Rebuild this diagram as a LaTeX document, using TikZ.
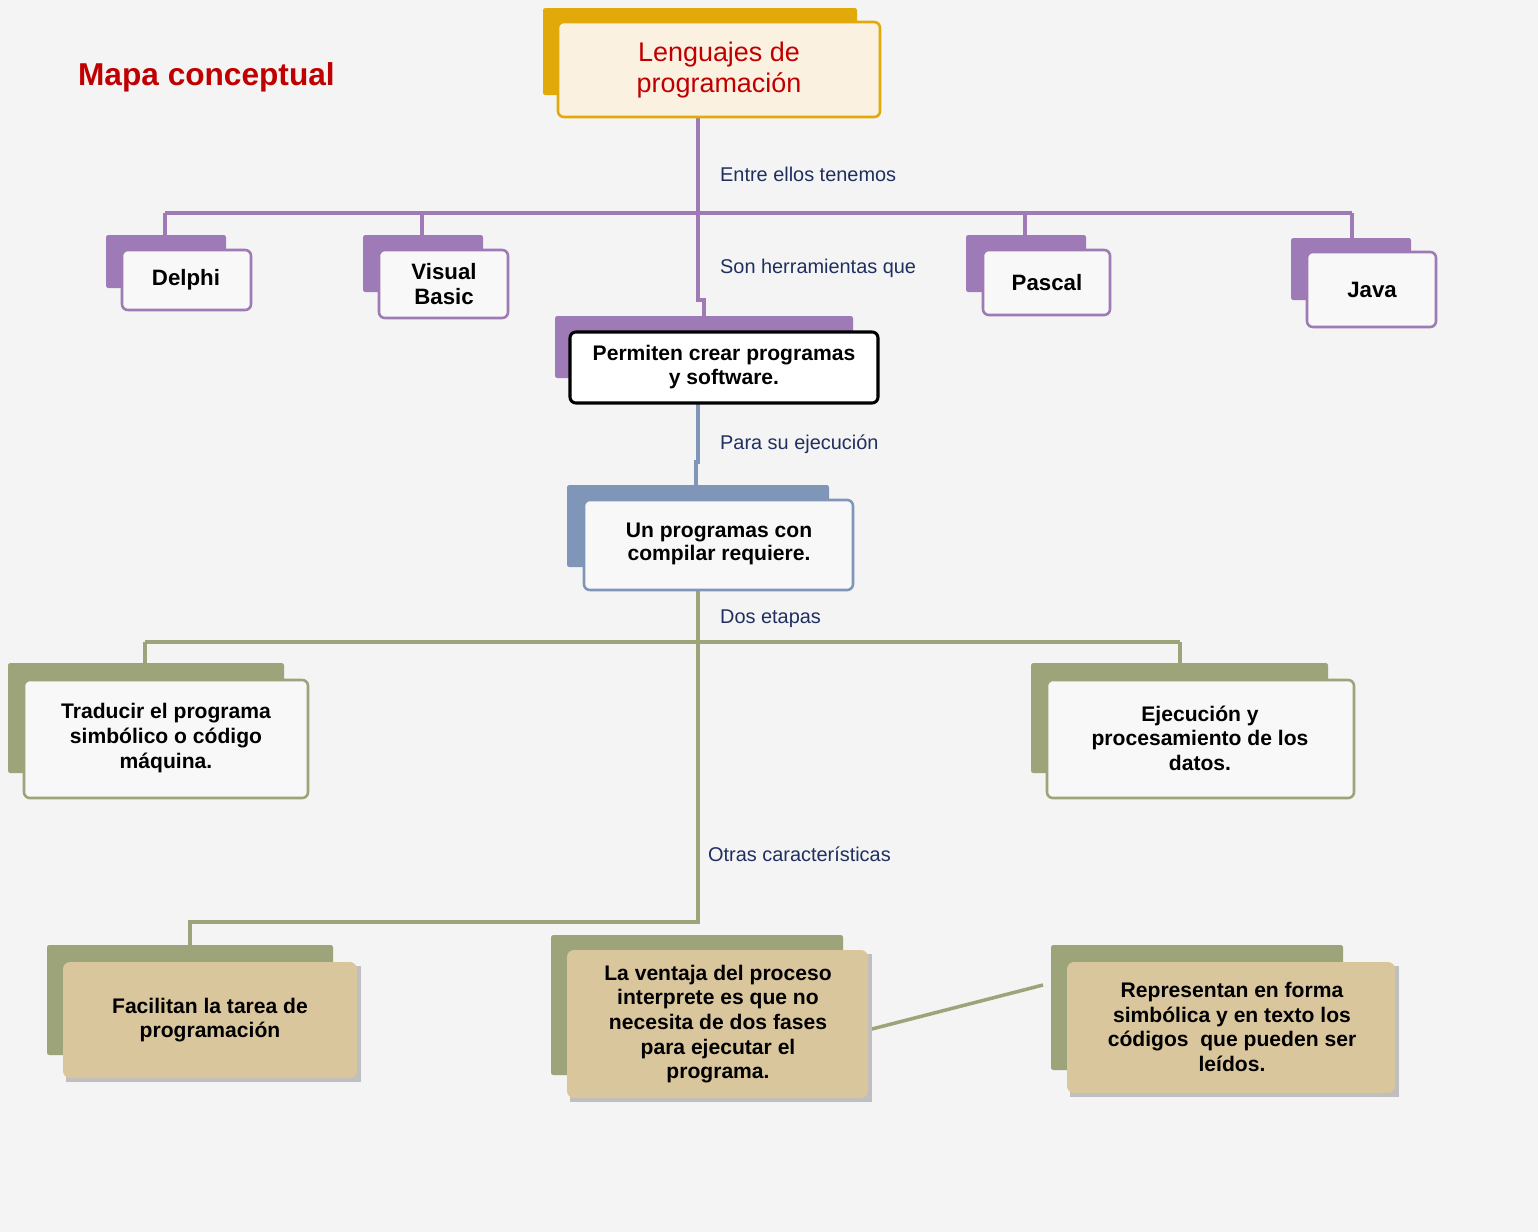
\documentclass[tikz,border=0pt]{standalone}
\usepackage{fontspec}
\setmainfont{Liberation Sans}
\usetikzlibrary{fit}
\definecolor{bg}{HTML}{F4F4F4}
\definecolor{gold}{HTML}{E1A90A}
\definecolor{cream}{HTML}{FBF1E0}
\definecolor{purp}{HTML}{9E7AB6}
\definecolor{bluegray}{HTML}{7F96B8}
\definecolor{olive}{HTML}{9DA47A}
\definecolor{tan}{HTML}{D9C69C}
\definecolor{navy}{HTML}{1F2F5F}
\definecolor{redt}{HTML}{C00000}
\tikzset{
 x=0.3mm,y=-0.3mm,
 backbox/.style={fill=#1, rounded corners=2pt},
 front/.style={draw=#1, line width=2.2pt, fill=bg!60!white, rounded corners=5pt, inner sep=0pt, align=center, font=\fontsize{19}{21}\selectfont\bfseries},
 tanbox/.style={draw=none, fill=tan, rounded corners=6pt, inner sep=0pt, align=center, font=\fontsize{19}{21}\selectfont\bfseries},
 lbl/.style={anchor=west, text=navy, font=\fontsize{17}{19}\selectfont},
 pl/.style={draw=purp, line width=3pt},
 bl/.style={draw=bluegray, line width=3pt},
 ol/.style={draw=olive, line width=3pt},
}
\begin{document}
\begin{tikzpicture}
\fill[bg] (0,0) rectangle (1538,1232);
\useasboundingbox (0,0) rectangle (1538,1232);
\node[text=redt, anchor=west, font=\fontsize{27}{29}\selectfont\bfseries] (title) at (74,77) {Mapa conceptual};
% connectors first
\coordinate (t1) at (698,117);
\coordinate (hl) at (165,213);
\coordinate (hr) at (1352,213);
\draw[pl] (t1) -- (698,300) -- (704,300) -- (704,318);
\draw[pl] (hl) -- (hr);
\draw[pl] (165,213) -- (165,236);
\draw[pl] (422,213) -- (422,236);
\draw[pl] (1025,213) -- (1025,236);
\draw[pl] (1352,213) -- (1352,238);
\draw[bl] (698,403) -- (698,462) -- (696,462) -- (696,487);
\draw[ol] (698,590) -- (698,922) -- (190,922) -- (190,945);
\draw[ol] (145,642) -- (1180,642);
\draw[ol] (145,642) -- (145,664);
\draw[ol] (1180,642) -- (1180,664);
% Lenguajes
\fill[backbox=gold] (543,8) rectangle (857,95);
\node[front=gold, fill=cream, fit={(558,22)(880,117)}] (leng) {};
\node[text=redt, font=\fontsize{23}{26}\selectfont, align=center] at (719,70) {Lenguajes de\\programación};
% purple boxes
\fill[backbox=purp] (106,235) rectangle (226,288);
\node[front=purp, fit={(122,250)(251,310)}] (delphi) {};
\node[font=\fontsize{19}{21}\selectfont\bfseries] at (186,280) {Delphi};
\fill[backbox=purp] (363,235) rectangle (483,292);
\node[front=purp, fit={(379,250)(508,318)}] (vb) {};
\node[font=\fontsize{19}{21}\selectfont\bfseries, align=center] at (444,284) {Visual\\Basic};
\fill[backbox=purp] (966,235) rectangle (1086,292);
\node[front=purp, fit={(983,250)(1110,315)}] (pascal) {};
\node[font=\fontsize{19}{21}\selectfont\bfseries] at (1047,283) {Pascal};
\fill[backbox=purp] (1291,238) rectangle (1411,300);
\node[front=purp, fit={(1307,252)(1436,327)}] (java) {};
\node[font=\fontsize{19}{21}\selectfont\bfseries] at (1372,290) {Java};
% Permiten
\fill[backbox=purp] (555,316) rectangle (853,378);
\node[front=black, fill=white, line width=2.6pt, fit={(570,332)(878,403)}] (perm) {};
\node[font=\fontsize{18}{20}\selectfont\bfseries, align=center] at (724,367) {Permiten crear programas\\y software.};
% Un programa
\fill[backbox=bluegray] (567,485) rectangle (829,567);
\node[front=bluegray, fit={(584,500)(853,590)}] (prog) {};
\node[font=\fontsize{18}{20}\selectfont\bfseries, align=center] at (719,544) {Un programas con\\compilar requiere.};
% Traducir / Ejecucion
\fill[backbox=olive] (8,663) rectangle (284,773);
\node[front=olive, fit={(24,680)(308,798)}] (trad) {};
\node[font=\fontsize{18}{21}\selectfont\bfseries, align=center] at (166,738) {Traducir el programa\\simbólico o código\\máquina.};
\fill[backbox=olive] (1031,663) rectangle (1328,773);
\node[front=olive, fit={(1047,680)(1354,798)}] (ejec) {};
\node[font=\fontsize{18}{21}\selectfont\bfseries, align=center] at (1200,738) {Ejecución y\\procesamiento de los\\datos.};
% tan boxes
\draw[ol] (868,1030) -- (1043,985);
\fill[backbox=olive] (47,945) rectangle (333,1055);
\fill[gray!50] (66,966) rectangle (361,1082);
\node[tanbox, fit={(63,962)(357,1078)}] (fac) {};
\node[font=\fontsize{18}{21}\selectfont\bfseries, align=center] at (210,1020) {Facilitan la tarea de\\programación};
\fill[backbox=olive] (551,935) rectangle (843,1075);
\fill[gray!50] (570,954) rectangle (872,1102);
\node[tanbox, fit={(567,950)(868,1098)}] (vent) {};
\node[font=\fontsize{18}{21}\selectfont\bfseries, align=center] at (718,1024) {La ventaja del proceso\\interprete es que no\\necesita de dos fases\\para ejecutar el\\programa.};
\fill[backbox=olive] (1051,945) rectangle (1343,1070);
\fill[gray!50] (1070,966) rectangle (1399,1097);
\node[tanbox, fit={(1067,962)(1395,1093)}] (rep) {};
\node[font=\fontsize{18}{21}\selectfont\bfseries, align=center] at (1232,1027) {Representan en forma\\simbólica y en texto los\\códigos\ \ que pueden ser\\leídos.};
% labels
\node[lbl] (l1) at (716,174) {Entre ellos tenemos};
\node[lbl] (l2) at (716,268) {Son herramientas que};
\node[lbl] (l3) at (716,444) {Para su ejecución};
\node[lbl] (l4) at (716,619) {Dos etapas};
\node[lbl] (l5) at (704,854) {Otras características};
\end{tikzpicture}
\end{document}
